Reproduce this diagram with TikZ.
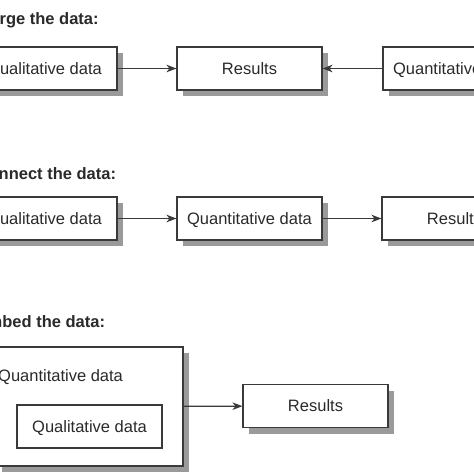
\documentclass[tikz,border=0pt]{standalone}
\usepackage{fontspec}
\setmainfont{Liberation Sans}
\usetikzlibrary{arrows.meta,shadows}
\definecolor{ink}{HTML}{2A2A2A}
\definecolor{edge}{HTML}{3A3A3A}
\definecolor{shade}{HTML}{9A9A9A}
\tikzset{
  base/.style={font=\fontsize{16.5pt}{19pt}\selectfont, text=ink},
  boxnode/.style={base, draw=edge, line width=1.1pt, fill=white, minimum width=145pt, minimum height=43pt, inner sep=0pt, text height=11.8pt, text depth=0pt},
  shadowed/.style={drop shadow={shadow xshift=5.5pt, shadow yshift=-6pt, fill=shade, opacity=1}},
  title/.style={base, font=\fontsize{16.5pt}{19pt}\selectfont\bfseries, anchor=base west, inner sep=0pt},
  plain/.style={base, inner sep=0pt},
  conn/.style={draw=edge, line width=1.2pt, -{Stealth[length=10pt,width=7.5pt,inset=3pt]}}
}
\begin{document}
\begin{tikzpicture}[x=1pt,y=-1pt]
\useasboundingbox (0,0) rectangle (474,474);
\clip (0,0) rectangle (474,474);
\fill[white] (0,0) rectangle (474,474);
% Row 1
\node[title] (t1) at (-23.5,24) {Merge the data:};
\node[boxnode, shadowed] (q1) at (44.5,68.5) {Qualitative data};
\node[boxnode, shadowed] (r1) at (249.5,68.5) {Results};
\node[boxnode, shadowed] (n1) at (455.5,68.5) {Quantitative data};
\draw[conn] (q1) -- (r1);
\draw[conn] (n1) -- (r1);
% Row 2
\node[title] (t2) at (-23.5,179) {Connect the data:};
\node[boxnode, shadowed] (q2) at (44.5,218.5) {Qualitative data};
\node[boxnode, shadowed] (n2) at (249.5,218.5) {Quantitative data};
\node[boxnode, shadowed] (r2) at (454.5,218.5) {Results};
\draw[conn] (q2) -- (n2);
\draw[conn] (n2) -- (r2);
% Row 3
\node[title] (t3) at (-23.5,327) {Embed the data:};
\node[boxnode, shadowed, minimum width=187pt, minimum height=119pt] (outer) at (89.5,406.5) {};
\node[plain, anchor=base west] (n3) at (-2,381) {Quantitative data};
\node[boxnode] (q3) at (89.5,426.5) {Qualitative data};
\node[boxnode, shadowed] (r3) at (315.5,406) {Results};
\draw[conn] (outer) -- (r3);
\end{tikzpicture}
\end{document}
